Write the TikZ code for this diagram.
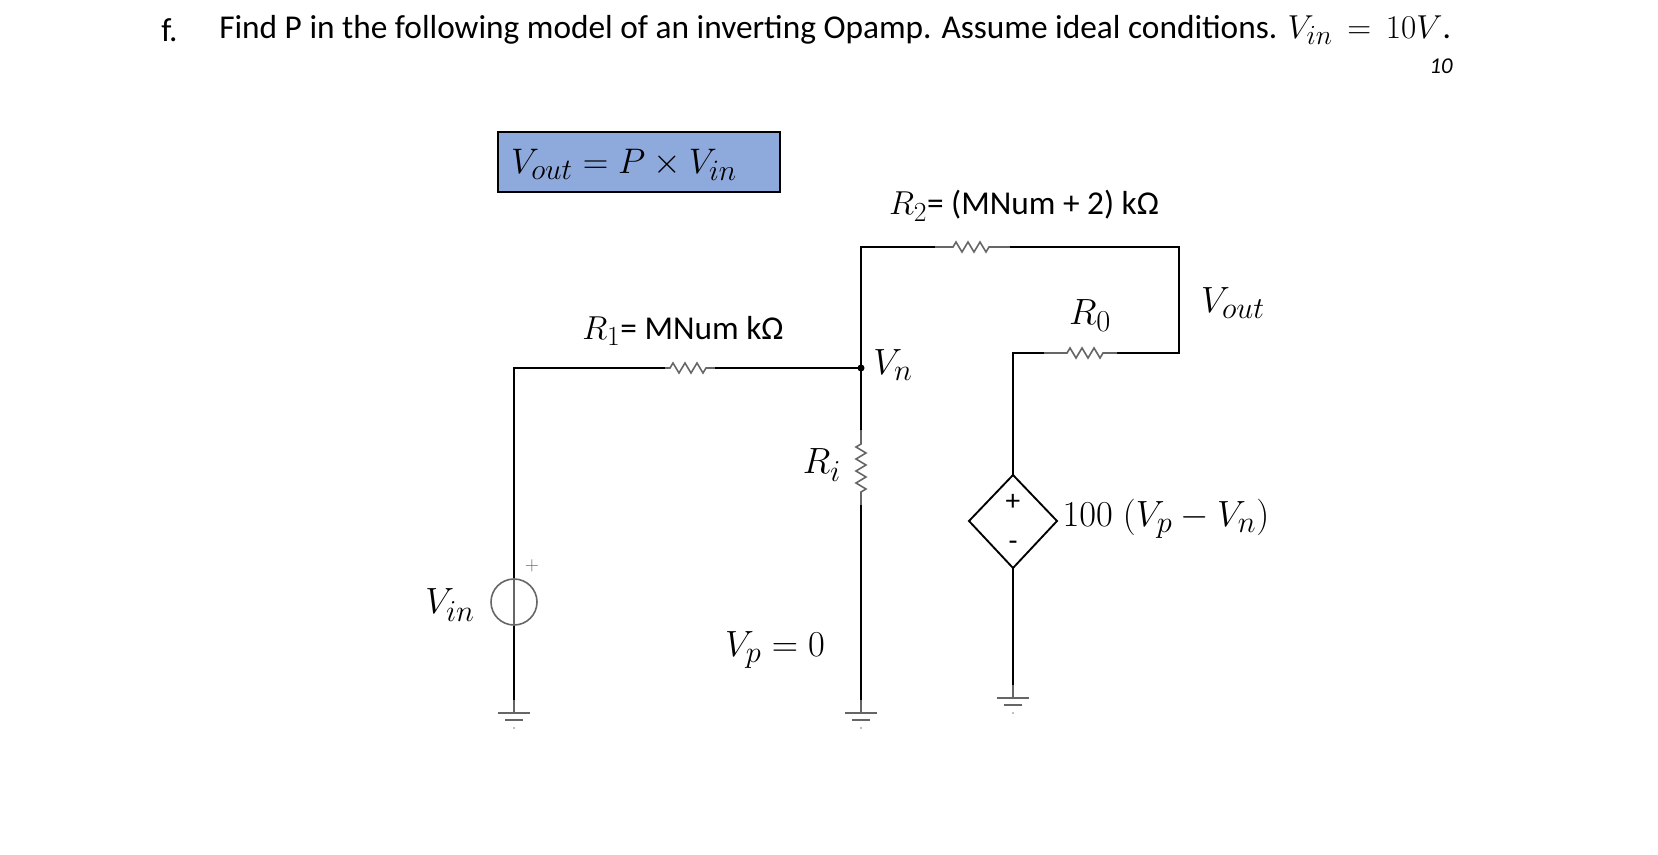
\documentclass[tikz,border=0pt]{standalone}
\usepackage{graphicx}
\usepackage{fontspec}
\newfontfamily\carl{Carlito}
\begin{document}
\begin{tikzpicture}[x=0.75pt,y=-0.75pt,
  wire/.style={line width=1.4pt,black},
  gw/.style={line width=1.2pt,gray!80!black},
  lab/.style={font=\Huge,scale=1.1,inner sep=0pt},
  slab/.style={font=\carl\fontsize{25}{29}\selectfont,inner sep=0pt}]
\useasboundingbox (0,0) rectangle (1658,855);
% title
\node[slab,anchor=west] (f) at (161,30) {f.};
\node[slab,anchor=west] (t) at (219,30) {Find P in the following model of an inverting Opamp. Assume ideal conditions. {\Huge$V_{in}\,=\,10V$}.};
\node[font=\carl\itshape\fontsize{17}{20}\selectfont,inner sep=0pt] (ten) at (1441,66) {10};
% box
\node[draw,line width=1pt,fill={rgb,255:red,142;green,169;blue,219},minimum width=211.5pt,minimum height=45pt,inner sep=0pt] (box) at (639,162) {};
\node[font=\Huge,scale=1.07,inner sep=0pt] at (624,165) {$V_{out}=P\times V_{in}$};
% coordinates
\coordinate (a) at (514,368);
\coordinate (vn) at (861,368);
\coordinate (tl) at (861,247);
\coordinate (tr) at (1179,247);
\coordinate (br) at (1179,353);
\coordinate (bl) at (1013,353);
\coordinate (dt) at (1013,475);
\coordinate (db) at (1013,568);
\coordinate (g1) at (514,713);
\coordinate (g2) at (861,713);
\coordinate (g3) at (1013,698);
\coordinate (st) at (514,578);
\coordinate (sb) at (514,626);
% wires
\draw[wire] (st) -- (a) -- (665,368);
\draw[gw] (665,368) -- (670,368) -- ++(3,-5) -- ++(6,10) -- ++(6,-10) -- ++(6,10) -- ++(6,-10) -- ++(6,10) -- ++(3,-5) -- (715,368);
\draw[wire] (715,368) -- (vn) -- (861,430);
\draw[gw] (861,430) -- (861,444) -- ++(-5,3) -- ++(10,6) -- ++(-10,6) -- ++(10,6) -- ++(-10,6) -- ++(10,6) -- ++(-10,6) -- ++(10,6) -- ++(-5,3) -- (861,505);
\draw[wire] (861,505) -- (861,700);
\draw[wire] (vn) -- (tl) -- (935,247);
\draw[gw] (935,247) -- (953,247) -- ++(3,-5) -- ++(6,10) -- ++(6,-10) -- ++(6,10) -- ++(6,-10) -- ++(6,10) -- ++(3,-5) -- (1010,247);
\draw[wire] (1010,247) -- (tr) -- (br) -- (1117,353);
\draw[gw] (1117,353) -- (1103,353) -- ++(-3,5) -- ++(-6,-10) -- ++(-6,10) -- ++(-6,-10) -- ++(-6,10) -- ++(-6,-10) -- ++(-3,5) -- (1044,353);
\draw[wire] (1044,353) -- (bl) -- (dt);
\draw[wire] (dt) -- (1057,521) -- (db) -- (969,521) -- cycle;
\draw[wire] (db) -- (1013,685);
\draw[wire] (sb) -- (514,700);
\fill (vn) circle (3.5);
% source
\draw[gw] (st) -- (sb);
\draw[gw] (514,602) circle (23);
\node[text=gray!80!black,font=\fontsize{14}{14}\selectfont,inner sep=0pt] at (532,566) {+};
% grounds
\foreach \g in {g1,g2,g3}{
 \draw[gw] (\g) ++(0,-13) -- (\g);
 \draw[gw] (\g) ++(-16,0) -- ++(32,0);
 \draw[gw] (\g) ++(-9,7) -- ++(18,0);
 \fill[gray] (\g) ++(0,15) circle (0.8);}
% diamond signs
\node[font=\carl\fontsize{22}{22}\selectfont,inner sep=0pt] at (1013,502) {+};
\node[font=\carl\fontsize{22}{22}\selectfont,inner sep=0pt] at (1013,546) {-};
% labels
\node[slab] (r2) at (1024,206) {{\Huge$R_2$}= (MNum + 2) kΩ};
\node[slab] (r1) at (683,331) {{\Huge$R_1$}= MNum kΩ};
\node[lab] at (1090,316) {$R_0$};
\node[lab] at (1233,303) {$V_{out}$};
\node[lab] at (893,365) {$V_n$};
\node[lab] at (822,465) {$R_i$};
\node[lab] at (1166,519) {$100\;(V_p-V_n)$};
\node[lab] at (450,605) {$V_{in}$};
\node[lab] at (775,650) {$V_p=0$};
\end{tikzpicture}
\end{document}
